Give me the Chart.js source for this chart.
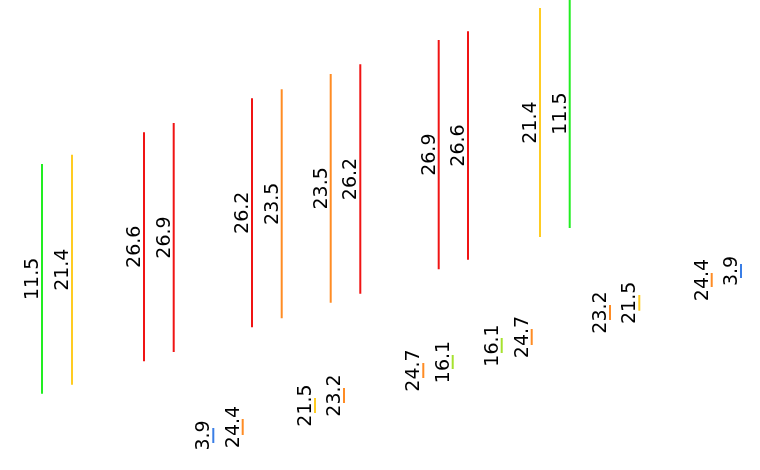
<!DOCTYPE html>
<html>
<head>
<meta charset="utf-8">
<script src="https://cdn.jsdelivr.net/npm/chart.js@4/dist/chart.umd.min.js"></script>
<style>
  html, body { margin: 0; padding: 0; background: #fff; }
  #chart { display: block; }
</style>
</head>
<body>
<canvas id="chart" width="760" height="470"></canvas>
<script>
// label values, in drawing order (pairs)
const values = [11.5, 21.4, 26.6, 26.9, 3.9, 24.4, 26.2, 23.5, 21.5, 23.2, 23.5, 26.2,
  24.7, 16.1, 26.9, 26.6, 16.1, 24.7, 21.4, 11.5, 23.2, 21.5, 24.4, 3.9];
// horizontal position of each segment
const xPos = [42, 72, 144, 173.7, 213.3, 242.7, 252, 281.7, 315, 344, 330.7, 360.3,
  423.3, 452.7, 438.7, 468, 501.7, 531.7, 540, 569.7, 610, 639.3, 711.7, 741];
// segment start / end (y axis counted from the top)
const yStart = [164, 154.7, 132.3, 123, 428, 419, 98.3, 89.3, 398, 388, 74, 64.3,
  363, 355, 40, 31.3, 338, 329, 8, -1, 305, 295, 273, 264];
const yEnd = [393.7, 384.7, 361.3, 352, 443, 435, 327.3, 318.3, 413, 403, 302.7, 293.7,
  378, 369, 269.3, 259.7, 353, 345, 237, 228, 320, 310.7, 287, 278];

function colorFor(v) {
  if (v < 8) return '#3a7ee6';
  if (v < 14) return '#22ee22';
  if (v < 19) return '#a6e22e';
  if (v < 22) return '#ffcc22';
  if (v < 25.5) return '#ff8c24';
  return '#f01414';
}

const datasets = values.map((v, i) => ({
  label: String(v),
  data: [{ x: xPos[i], y: yStart[i] }, { x: xPos[i], y: yEnd[i] }],
  borderColor: colorFor(v),
  borderWidth: 2,
  pointRadius: 0,
  fill: false,
}));

const sideLabels = {
  id: 'sideLabels',
  afterDatasetsDraw(chart) {
    const { ctx } = chart;
    ctx.save();
    ctx.font = '19px "DejaVu Sans"';
    ctx.fillStyle = '#000';
    ctx.textAlign = 'center';
    ctx.textBaseline = 'alphabetic';
    chart.data.datasets.forEach((ds, i) => {
      const pts = chart.getDatasetMeta(i).data;
      const x = pts[0].x;
      const midY = (pts[0].y + pts[1].y) / 2;
      ctx.save();
      ctx.translate(x - 4, midY);
      ctx.rotate(-Math.PI / 2);
      ctx.fillText(ds.label, 0, 0);
      ctx.restore();
    });
    ctx.restore();
  },
};

new Chart(document.getElementById('chart').getContext('2d'), {
  type: 'line',
  data: { datasets },
  options: {
    responsive: false,
    animation: false,
    layout: { padding: 0 },
    plugins: { legend: { display: false }, tooltip: { enabled: false } },
    scales: {
      x: { type: 'linear', min: 0, max: 760, display: false },
      y: { type: 'linear', min: 0, max: 470, reverse: true, display: false },
    },
  },
  plugins: [sideLabels],
});
</script>
</body>
</html>
